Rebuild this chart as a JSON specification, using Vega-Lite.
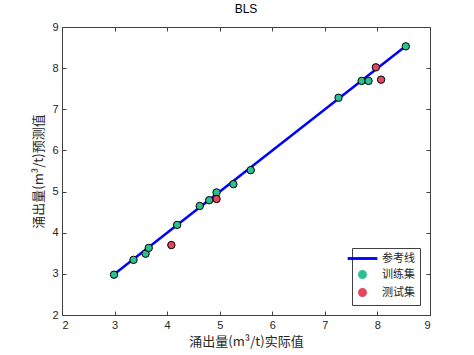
{
  "$schema": "https://vega.github.io/schema/vega-lite/v6.json",
  "width": 368,
  "height": 288,
  "autosize": "none",
  "padding": {"left": 62, "top": 27, "right": 44, "bottom": 40},
  "background": "white",
  "title": {"text": "BLS", "fontSize": 12, "font": "Liberation Sans", "fontWeight": "normal", "color": "#000000", "offset": 5},
  "config": {
    "view": {"stroke": "#404040", "strokeWidth": 1},
    "axis": {"grid": false, "labelFont": "Liberation Sans", "labelFontSize": 11, "labelColor": "#262626", "domainColor": "#404040", "tickColor": "#404040", "tickSize": -4, "titleFont": "Noto Sans CJK SC", "titleFontSize": 13, "titleFontWeight": "normal", "titleColor": "#262626"}
  },
  "layer": [
    {
      "data": {"values": [
        {"x": 2.98, "y": 2.98, "series": "参考线"},
        {"x": 8.54, "y": 8.54, "series": "参考线"}
      ]},
      "mark": {"type": "line", "strokeWidth": 2.5},
      "encoding": {
        "x": {"field": "x", "type": "quantitative", "scale": {"domain": [2, 9], "nice": false}, "axis": {"title": "涌出量(m³/t)实际值", "values": [2,3,4,5,6,7,8,9], "labelPadding": 8, "titlePadding": 5}},
        "y": {"field": "y", "type": "quantitative", "scale": {"domain": [2, 9], "nice": false}, "axis": {"title": "涌出量(m³/t)预测值", "values": [2,3,4,5,6,7,8,9], "labelPadding": 8, "titlePadding": 6}},
        "color": {"field": "series", "type": "nominal", "scale": {"domain": ["参考线", "训练集", "测试集"], "range": ["#0000ff", "#2dbf8f", "#e6465f"]}}
      }
    },
    {
      "data": {"values": [
        {"x": 2.99, "y": 2.98, "series": "训练集"},
        {"x": 3.36, "y": 3.34, "series": "训练集"},
        {"x": 3.59, "y": 3.49, "series": "训练集"},
        {"x": 3.65, "y": 3.63, "series": "训练集"},
        {"x": 4.19, "y": 4.19, "series": "训练集"},
        {"x": 4.62, "y": 4.65, "series": "训练集"},
        {"x": 4.80, "y": 4.79, "series": "训练集"},
        {"x": 4.94, "y": 4.98, "series": "训练集"},
        {"x": 5.26, "y": 5.18, "series": "训练集"},
        {"x": 5.59, "y": 5.52, "series": "训练集"},
        {"x": 7.26, "y": 7.28, "series": "训练集"},
        {"x": 7.70, "y": 7.69, "series": "训练集"},
        {"x": 7.83, "y": 7.69, "series": "训练集"},
        {"x": 8.54, "y": 8.53, "series": "训练集"},
        {"x": 4.08, "y": 3.70, "series": "测试集"},
        {"x": 4.94, "y": 4.82, "series": "测试集"},
        {"x": 7.97, "y": 8.02, "series": "测试集"},
        {"x": 8.07, "y": 7.72, "series": "测试集"}
      ]},
      "mark": {"type": "point", "filled": true, "stroke": "#000000", "strokeWidth": 1, "opacity": 1, "size": 55},
      "encoding": {
        "x": {"field": "x", "type": "quantitative", "axis": {"orient": "top", "labels": false, "title": null, "values": [2,3,4,5,6,7,8,9], "domain": false}},
        "y": {"field": "y", "type": "quantitative", "axis": {"orient": "right", "labels": false, "title": null, "values": [2,3,4,5,6,7,8,9], "domain": false}},
        "color": {"field": "series", "type": "nominal", "legend": {"title": null, "orient": "bottom-right", "offset": 10, "fillColor": "white", "strokeColor": "#404040", "padding": 5, "labelFont": "Noto Sans CJK SC", "labelFontSize": 11, "labelColor": "#262626", "symbolSize": 55, "rowPadding": 3, "labelOffset": 14,
          "encode": {"symbols": {"update": {"stroke": {"signal": "datum.value === '参考线' ? '#0000ff' : '#000000'"}, "strokeWidth": {"signal": "datum.value === '参考线' ? 0 : 1"}, "fill": {"signal": "datum.value === '参考线' ? '#0000ff' : datum.value === '训练集' ? '#2dbf8f' : '#e6465f'"}, "opacity": {"value": 1}}}}}},
        "shape": {"field": "series", "type": "nominal", "scale": {"domain": ["参考线", "训练集", "测试集"], "range": ["M-3.8,-0.18H3.8V0.18H-3.8Z", "circle", "circle"]}}
      }
    }
  ],
  "resolve": {"axis": {"x": "independent", "y": "independent"}}
}
